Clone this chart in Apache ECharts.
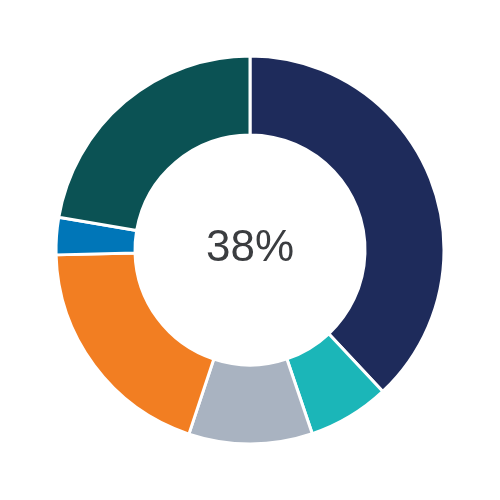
<!DOCTYPE html>
<html>
<head>
    <meta charset="UTF-8">
    <title>Donut</title>
    <script src="https://cdn.jsdelivr.net/npm/echarts@6/dist/echarts.min.js"></script>
    <style>
        html, body { margin: 0; padding: 0; background: #fff; }
    </style>
</head>
<body>
<div id="donut" style="width: 500px;height:500px;"></div>
<script type="text/javascript">
    // slices, clockwise from 12 o'clock
    var names = ['A', 'B', 'C', 'D', 'E', 'F'];
    var values = [38, 6.8, 10.3, 19.5, 3.1, 22.3];
    var colors = ['#1e2b5b', '#1bb6b8', '#a9b3c1', '#f27e22', '#0076b8', '#0b5254'];
    var centerLabel = '38%';

    var donutChart = echarts.init(document.getElementById('donut'));

    var option = {
        animation: false,
        graphic: [{
            type: 'text',
            left: 'center',
            top: 227,
            style: {
                text: centerLabel,
                fontSize: 44,
                fontFamily: 'Arial, Liberation Sans, sans-serif',
                fill: '#3b3d40'
            }
        }],
        series: [{
            type: 'pie',
            center: [250, 250],
            radius: [115, 194],
            startAngle: 90,
            clockwise: true,
            label: {show: false},
            labelLine: {show: false},
            itemStyle: {borderColor: '#fff', borderWidth: 3},
            emphasis: {disabled: true},
            data: names.map(function (n, i) {
                return {name: n, value: values[i], itemStyle: {color: colors[i]}};
            })
        }]
    };

    donutChart.setOption(option);
</script>
</body>
</html>
